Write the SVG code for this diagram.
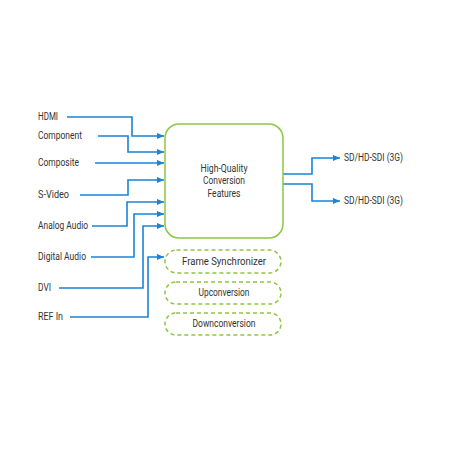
<svg xmlns="http://www.w3.org/2000/svg" width="450" height="450" viewBox="0 0 450 450">
<style>
text{font-family:"Roboto","Liberation Sans",sans-serif;font-size:10px;fill:#333}
.c{text-anchor:middle}
.w{fill:none;stroke:#1b84d6;stroke-width:1.6}
.box{fill:#fff;stroke:#8dc63f;stroke-width:1.5}
.dash{fill:#fff;stroke:#8dc63f;stroke-width:1.5;stroke-dasharray:4 3}
</style>
<defs>
<marker id="a" viewBox="0 0 8 8" refX="8" refY="4" markerWidth="7" markerHeight="7" markerUnits="userSpaceOnUse" orient="auto">
<path d="M0,0.5 L8,4 L0,7.5 z" fill="#1b84d6"/>
</marker>
</defs>
<rect width="450" height="450" fill="#fff"/>
<g id="connectors">
<path class="w" marker-end="url(#a)" d="M67,117 H132 V136 H164"/>
<path class="w" marker-end="url(#a)" d="M98,136 H128 V152 H164"/>
<path class="w" marker-end="url(#a)" d="M95,163 H164"/>
<path class="w" marker-end="url(#a)" d="M80,195 H128 V180 H164"/>
<path class="w" marker-end="url(#a)" d="M92,226 H127 V202 H164"/>
<path class="w" marker-end="url(#a)" d="M91,257 H134 V214 H164"/>
<path class="w" marker-end="url(#a)" d="M59,288 H143 V226 H164"/>
<path class="w" marker-end="url(#a)" d="M70,317 H148 V257 H164"/>
<path class="w" marker-end="url(#a)" d="M283,174 H312 V158 H340"/>
<path class="w" marker-end="url(#a)" d="M283,184 H312 V201 H340"/>
</g>
<g id="inputs">
<text x="38" y="120" textLength="20" lengthAdjust="spacingAndGlyphs">HDMI</text>
<text x="38" y="139" textLength="44" lengthAdjust="spacingAndGlyphs">Component</text>
<text x="38" y="166" textLength="41" lengthAdjust="spacingAndGlyphs">Composite</text>
<text x="38" y="198" textLength="31" lengthAdjust="spacingAndGlyphs">S-Video</text>
<text x="38" y="229" textLength="50" lengthAdjust="spacingAndGlyphs">Analog Audio</text>
<text x="38" y="260" textLength="48" lengthAdjust="spacingAndGlyphs">Digital Audio</text>
<text x="38" y="291" textLength="13" lengthAdjust="spacingAndGlyphs">DVI</text>
<text x="38" y="320" textLength="25" lengthAdjust="spacingAndGlyphs">REF In</text>
</g>
<g id="main">
<rect class="box" x="165" y="124" width="118" height="114" rx="14"/>
<text class="c" x="224" y="172" textLength="47" lengthAdjust="spacingAndGlyphs">High-Quality</text>
<text class="c" x="224" y="184" textLength="42" lengthAdjust="spacingAndGlyphs">Conversion</text>
<text class="c" x="224" y="197" textLength="33" lengthAdjust="spacingAndGlyphs">Features</text>
</g>
<g id="frame-sync">
<rect class="dash" x="165" y="250" width="116" height="23" rx="11.5"/>
<text class="c" x="224" y="265" textLength="84" lengthAdjust="spacingAndGlyphs">Frame Synchronizer</text>
</g>
<g id="upconversion">
<rect class="dash" x="165" y="282" width="116" height="22" rx="11"/>
<text class="c" x="224" y="296" textLength="51" lengthAdjust="spacingAndGlyphs">Upconversion</text>
</g>
<g id="downconversion">
<rect class="dash" x="165" y="313" width="116" height="22" rx="11"/>
<text class="c" x="224" y="327" textLength="63" lengthAdjust="spacingAndGlyphs">Downconversion</text>
</g>
<g id="outputs">
<text x="344" y="161" textLength="59" lengthAdjust="spacingAndGlyphs">SD/HD-SDI (3G)</text>
<text x="344" y="204" textLength="59" lengthAdjust="spacingAndGlyphs">SD/HD-SDI (3G)</text>
</g>
</svg>
